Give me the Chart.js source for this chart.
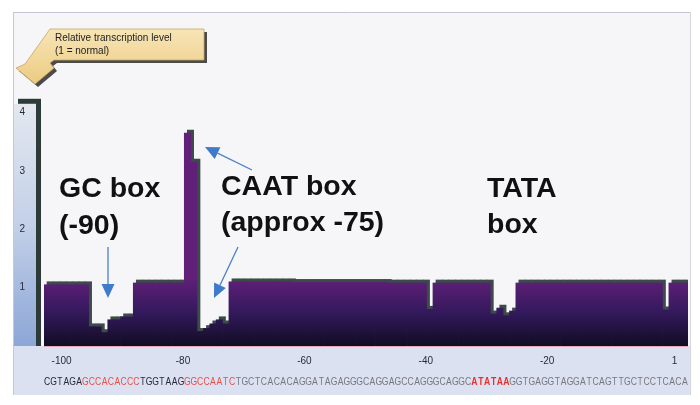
<!DOCTYPE html>
<html><head><meta charset="utf-8">
<script src="https://cdn.jsdelivr.net/npm/chart.js@4.4.1/dist/chart.umd.min.js"></script>
<style>html,body{margin:0;padding:0;background:#fff;}#wrap{width:700px;height:405px;position:relative;}</style>
</head><body><div id="wrap"><canvas id="c" width="700" height="405"></canvas></div>
<script>
// ---- data ----
const positions = ['-100','-99','-98','-97','-96','-95','-94','-93','-92','-91',
 '-90','-89','-88','-87','-86','-85','-84','-83','-82','-81',
 '-80','-79','-78','-77','-76','-75','-74','-73','-72','-71',
 '-70','-69','-68','-67','-66','-65','-64','-63','-62','-61',
 '-60','-59','-58','-57','-56','-55','-54','-53','-52','-51',
 '-50','-49','-48','-47','-46','-45','-44','-43','-42','-41',
 '-40','-39','-38','-37','-36','-35','-34','-33','-32','-31',
 '-30','-29','-28','-27','-26','-25','-24','-23','-22','-21',
 '-20','-19','-18','-17','-16','-15','-14','-13','-12','-11',
 '-10','-9','-8','-7','-6','-5','-4','-3','-2','-1','1'];
const transcription = [1.05,1.05,1.05,1.05,1.05,1.05,1.05,0.33,0.33,0.23,
 0.45,0.45,0.50,0.50,1.08,1.08,1.08,1.08,1.08,1.08,
 1.08,1.08,3.65,3.15,0.25,0.30,0.38,0.45,0.38,1.10,
 1.10,1.10,1.10,1.10,1.10,1.10,1.10,1.10,1.10,1.09,
 1.09,1.09,1.09,1.09,1.09,1.09,1.09,1.09,1.09,1.09,
 1.09,1.09,1.09,1.09,1.08,1.08,1.08,1.08,1.08,1.08,
 0.63,1.08,1.08,1.08,1.08,1.08,1.08,1.08,1.08,1.08,
 0.55,0.65,0.52,0.60,1.08,1.08,1.08,1.08,1.08,1.08,
 1.08,1.08,1.08,1.08,1.08,1.08,1.08,1.08,1.08,1.08,
 1.08,1.08,1.08,1.08,1.08,1.08,1.08,0.62,1.08,1.08,1.08];
const xTickLabels = [-100,-80,-60,-40,-20,1];
const yTickLabels = [1,2,3,4];
const axisBarValue = 4.15;
const sequence = 'CGTAGAGCCACACCCTGGTAAGGGCCAATCTGCTCACACAGGATAGAGGGCAGGAGCCAGGGCAGGCATATAAGGTGAGGTAGGATCAGTTGCTCCTCACA';
const redRanges = [[6,14],[22,29],[67,72]];
const labels = {
  callout: ['Relative transcription level','(1 = normal)'],
  gc: ['GC box','(-90)'],
  caat: ['CAAT box','(approx -75)'],
  tata: ['TATA','box']
};

const FONT = "'Liberation Sans', Arial, Helvetica, sans-serif";

function arrow(ctx, x1, y1, x2, y2, hl, hw) {
  const a = Math.atan2(y2 - y1, x2 - x1);
  const bx = x2 - hl * Math.cos(a), by = y2 - hl * Math.sin(a);
  ctx.strokeStyle = '#4a80c6'; ctx.lineWidth = 1.3;
  ctx.beginPath(); ctx.moveTo(x1, y1); ctx.lineTo(bx, by); ctx.stroke();
  ctx.fillStyle = '#3f7bcb';
  ctx.beginPath();
  ctx.moveTo(x2, y2);
  ctx.lineTo(bx + hw / 2 * Math.sin(a), by - hw / 2 * Math.cos(a));
  ctx.lineTo(bx - hw / 2 * Math.sin(a), by + hw / 2 * Math.cos(a));
  ctx.closePath(); ctx.fill();
}

const decor = {
  id: 'decor',
  beforeDraw(chart) {
    const ctx = chart.ctx, a = chart.chartArea, y = chart.scales.y;
    ctx.save();
    ctx.fillStyle = '#ffffff'; ctx.fillRect(0, 0, 700, 405);
    ctx.fillStyle = '#f6f6f8'; ctx.fillRect(13, 12, 677, a.bottom - 12);
    // bottom band
    ctx.fillStyle = '#dce1f1'; ctx.fillRect(13, a.bottom, 677, 395 - a.bottom);
    ctx.strokeStyle = '#e7a9b9'; ctx.lineWidth = 1;
    ctx.beginPath(); ctx.moveTo(44, a.bottom + 0.5); ctx.lineTo(688, a.bottom + 0.5); ctx.stroke();
    // frame
    ctx.strokeStyle = '#cbc3d8';
    ctx.beginPath(); ctx.moveTo(13.5, 12); ctx.lineTo(13.5, 395); ctx.stroke();
    ctx.beginPath(); ctx.moveTo(13, 12.5); ctx.lineTo(690, 12.5); ctx.stroke();
    ctx.strokeStyle = '#d6d6de';
    ctx.beginPath(); ctx.moveTo(690.5, 12); ctx.lineTo(690.5, 395); ctx.stroke();
    // axis column (reference bar)
    const top = y.getPixelForValue(axisBarValue);
    ctx.fillStyle = '#2c3b37';
    ctx.fillRect(18, top - 5, 23, a.bottom - top + 5);
    const g = ctx.createLinearGradient(0, top, 0, a.bottom);
    g.addColorStop(0, '#e3e8f0'); g.addColorStop(0.5, '#c3d0e8'); g.addColorStop(1, '#8ca6d6');
    ctx.fillStyle = g; ctx.fillRect(14, top, 22, a.bottom - top);
    ctx.restore();
  },
  beforeDatasetsDraw(chart) {
    const ctx = chart.ctx;
    ctx.save();
    ctx.shadowColor = '#3b4c48'; ctx.shadowOffsetX = 3; ctx.shadowOffsetY = -3; ctx.shadowBlur = 0;
  },
  afterDatasetsDraw(chart) { chart.ctx.restore(); },
  afterDraw(chart) {
    const ctx = chart.ctx, x = chart.scales.x;
    ctx.save();
    // sequence
    ctx.textAlign = 'center'; ctx.textBaseline = 'alphabetic';
    for (let i = 0; i < sequence.length; i++) {
      const red = redRanges.some(r => i >= r[0] && i <= r[1]);
      const tata = i >= redRanges[2][0] && i <= redRanges[2][1];
      ctx.fillStyle = red ? (tata ? '#e8302a' : '#e5504c') : (i < 30 ? '#26263a' : '#77777f');
      ctx.font = (tata ? 'bold ' : '') + '10px ' + FONT;
      const px = x.getPixelForValue(i);
      ctx.save(); ctx.translate(px, 385); ctx.scale(0.86, 1); ctx.fillText(sequence[i], 0, 0); ctx.restore();
    }
    // big labels
    ctx.fillStyle = '#111'; ctx.textAlign = 'left';
    ctx.font = 'bold 28.5px ' + FONT;
    ctx.fillText(labels.gc[0], 59, 197); ctx.fillText(labels.gc[1], 59, 234);
    ctx.fillText(labels.caat[0], 221, 195); ctx.fillText(labels.caat[1], 221, 231);
    ctx.fillText(labels.tata[0], 487, 197); ctx.fillText(labels.tata[1], 487, 233);
    // blue arrows
    arrow(ctx, 108, 247, 108, 298, 14, 13);
    arrow(ctx, 252, 170, 205, 147, 14, 13);
    arrow(ctx, 238, 247, 214, 298, 14, 13);
    // callout
    const pts = [[50,29],[204,29],[204,60],[54,60],[50,63],[54,68],[35,84],[16,68],[25,64]];
    ctx.fillStyle = 'rgba(45,45,45,0.85)';
    ctx.beginPath(); pts.forEach((p, k) => k ? ctx.lineTo(p[0] + 3, p[1] + 3) : ctx.moveTo(p[0] + 3, p[1] + 3)); ctx.closePath(); ctx.fill();
    const cg = ctx.createLinearGradient(0, 29, 0, 84);
    cg.addColorStop(0, '#f7e5b6'); cg.addColorStop(1, '#eccb82');
    ctx.fillStyle = cg;
    ctx.beginPath(); pts.forEach((p, k) => k ? ctx.lineTo(p[0], p[1]) : ctx.moveTo(p[0], p[1])); ctx.closePath(); ctx.fill();
    ctx.strokeStyle = '#c9a663'; ctx.lineWidth = 0.8; ctx.stroke();
    ctx.fillStyle = '#222'; ctx.font = '10px ' + FONT;
    ctx.fillText(labels.callout[0], 55, 41); ctx.fillText(labels.callout[1], 55, 54);
    ctx.restore();
  }
};

new Chart(document.getElementById('c'), {
  type: 'bar',
  data: {
    labels: positions,
    datasets: [{
      data: transcription,
      barPercentage: 1, categoryPercentage: 1, borderWidth: 0,
      backgroundColor: (c) => {
        const ch = c.chart;
        if (!ch.chartArea) return '#3a1858';
        const ys = ch.scales.y;
        const g = ch.ctx.createLinearGradient(0, ys.getPixelForValue(1.15), 0, ys.getPixelForValue(0));
        g.addColorStop(0, '#601f78'); g.addColorStop(0.5, '#33195c'); g.addColorStop(1, '#110c24');
        return g;
      }
    }]
  },
  options: {
    responsive: false, animation: false,
    layout: { padding: { top: 16, right: 12, left: 0, bottom: 0 } },
    plugins: { legend: { display: false }, tooltip: { enabled: false } },
    scales: {
      x: { display: false, offset: true },
      x2: {
        type: 'linear', position: 'bottom', min: -102.9, max: 3.2, offset: false,
        afterBuildTicks: (s) => { s.ticks = xTickLabels.map(v => ({ value: v })); },
        afterFit: (s) => { s.height = 59; },
        grid: { display: false, drawTicks: false, offset: false }, border: { display: false },
        ticks: { autoSkip: false, maxRotation: 0, padding: 9, color: '#2a2a35', font: { size: 10, family: FONT },
          callback: (v) => String(v) }
      },
      y: {
        min: 0, max: 5.5,
        afterBuildTicks: (s) => { s.ticks = yTickLabels.map(v => ({ value: v })); },
        afterFit: (s) => { s.width = 44; },
        grid: { display: false, drawTicks: false }, border: { display: false },
        ticks: { padding: 19, color: '#2a2a35', font: { size: 10, family: FONT } }
      }
    }
  },
  plugins: [decor]
});
</script></body></html>
